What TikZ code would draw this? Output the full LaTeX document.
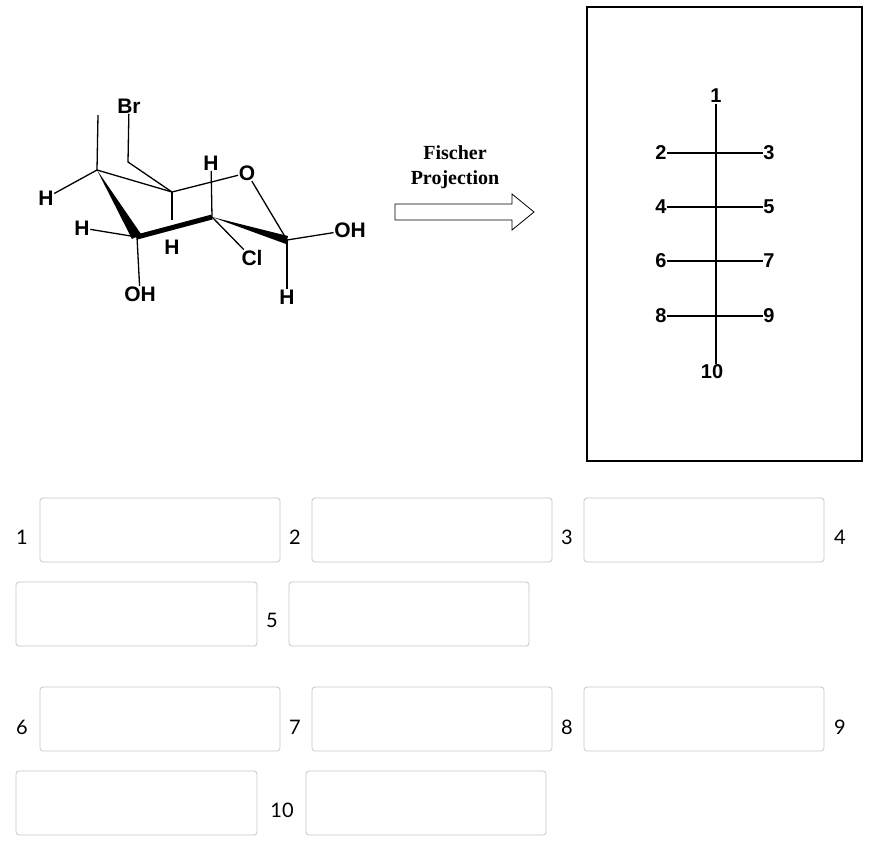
\documentclass[tikz,border=0pt]{standalone}
\usepackage{fontspec}
\setmainfont{Lato}
\newfontfamily\chemf{Liberation Sans}
\newfontfamily\serf{Liberation Serif}
\begin{document}
\begin{tikzpicture}[x=1pt,y=-1pt,
  atom/.style={font=\chemf\bfseries\fontsize{21}{21}\selectfont,inner sep=0.5pt},
  fnum/.style={font=\chemf\bfseries\fontsize{20}{20}\selectfont,inner sep=0.5pt},
  bond/.style={line width=1.3pt},
  ansbox/.style={draw=black!22,line width=0.8pt,rounded corners=3pt},
  qlab/.style={font=\fontsize{20}{20}\selectfont}]
\useasboundingbox (0,0) rectangle (893,844);
% chair
\coordinate (cl) at (97,170);
\coordinate (cb) at (172,192);
\coordinate (c5) at (212,217);
\coordinate (ca) at (287,240);
\coordinate (c4) at (137,237);
\node[atom] (o) at (247,173) {O};
\node[atom] (br) at (129,106) {Br};
\node[atom] (hl) at (46,198) {H};
\node[atom] (h4) at (82,228) {H};
\node[atom] (hb) at (172,247) {H};
\node[atom] (h5) at (211,163) {H};
\node[atom] (cl2) at (252,258) {Cl};
\node[atom] (oha) at (350,230) {OH};
\node[atom] (ha) at (287,297) {H};
\node[atom] (oh4) at (140,294) {OH};
\coordinate (me) at (98,115);
\draw[bond] (cl) -- (me);
\draw[bond] (cl) -- (hl);
\draw[bond] (cl) -- (cb);
\draw[bond] (cb) -- (128,162) -- (br);
\draw[bond] (cb) -- (172,220);
\draw[bond] (cb) -- (o);
\draw[bond] (c5) -- (h5);
\draw[bond] (o) -- (ca);
\draw[bond] (ca) -- (oha);
\draw[bond] (ca) -- (ha);
\draw[bond] (c5) -- (cl2);
\draw[bond] (c4) -- (h4);
\draw[bond] (c4) -- (oh4);
\fill (cl) -- (132,239) -- (141,234) -- cycle;
\draw[line width=5pt] (c4) -- (c5);
\fill (c5) -- (288,236) -- (286,244) -- cycle;
% arrow
\node[font=\serf\bfseries\fontsize{20}{25}\selectfont,align=center] (ft) at (455,167) {Fischer\\Projection};
\draw[line width=0.8pt] (395,204) -- (512,204) -- (512,194) -- (534,212) -- (512,230) -- (512,220) -- (395,220) -- cycle;
% Fischer box
\draw[line width=1.2pt] (587,7) rectangle (862,461);
\node[fnum] (n1) at (716,96) {1};
\node[fnum] (n10) at (712,372) {10};
\draw[bond] (n1.south) -- (n1.south |- n10.north);
\foreach \y/\a/\b in {153/2/3,207/4/5,261/6/7,316/8/9}{
  \node[fnum] (f\a) at (661,\y) {\a};
  \node[fnum] (f\b) at (769,\y) {\b};
  \draw[bond] (f\a) -- (f\b);
}
% answer boxes
\foreach \x/\y/\w in {40/498/240,312/498/240,584/498/240,16/582/241,289/582/240,40/687/240,312/687/240,584/687/240,16/771/241,306/771/240}
  \draw[ansbox] (\x,\y) rectangle ++(\w,64);
\foreach \x/\y/\t in {22/537/1,295/537/2,567/537/3,840/537/4,272/620/5,22/727/6,295/727/7,567/727/8,840/727/9,282/810/10}
  \node[qlab] (q\t) at (\x,\y) {\t};
\end{tikzpicture}
\end{document}
